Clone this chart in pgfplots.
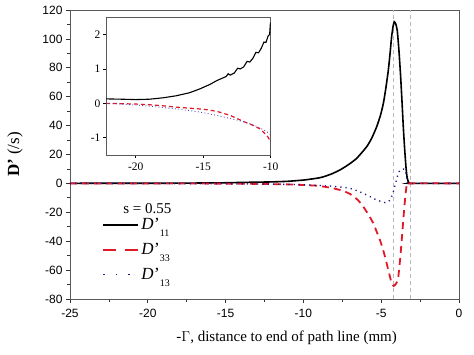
\documentclass[border=0pt]{standalone}
\usepackage{fontspec}
\setmainfont{Liberation Serif}
\setsansfont{Liberation Sans}
\usepackage{pgfplots}
\pgfplotsset{compat=1.18}
\definecolor{dred}{RGB}{225,25,40}
\definecolor{dblue}{RGB}{25,25,140}
\definecolor{frame}{RGB}{90,90,90}
\newcommand{\Dlab}[1]{\fontsize{17}{17}\selectfont\textit{D}\kern0.5pt'\raisebox{-0.9ex}{\fontsize{10}{10}\selectfont #1}}
\begin{document}
\begin{tikzpicture}
\begin{axis}[
  scale only axis, width=389pt, height=289pt,
  at={(0,0)}, anchor=south west,
  xmin=-25, xmax=0, ymin=-80, ymax=120,
  xtick={-25,-20,...,0}, ytick={-80,-60,...,120},
  minor x tick num=1, minor y tick num=1,
  tick align=outside, tick pos=left,
  major tick length=4pt, minor tick length=3pt,
  axis line style={frame, line width=0.8pt},
  every tick/.style={black!80, line width=0.7pt},
  /pgf/number format/assume math mode=true,
  tick label style={font=\sffamily\fontsize{12}{12}\selectfont},
  xticklabel style={yshift=-3pt},
  xlabel={-$\Gamma$, distance to end of path line (mm)},
  xlabel style={font=\fontsize{15}{15}\selectfont, at={(axis description cs:0.557,-0.135)}, anchor=center},
  ylabel={\textbf{D'} (/s)},
  ylabel style={font=\fontsize{17}{17}\selectfont, at={(axis description cs:-0.141,0.5)}, anchor=center, rotate=0},
  legend style={draw=none, fill=none, at={(axis description cs:0.08,0.29)}, anchor=north west,
    row sep=8pt, legend cell align=left, inner sep=1pt},
  legend image code/.code={\draw[#1] (0pt,0pt) -- (35pt,0pt);},
]
\addlegendimage{black, line width=1.8pt}
\addlegendentry{\Dlab{11}}
\addlegendimage{dred, line width=2pt, dash pattern=on 13pt off 9pt}
\addlegendentry{\Dlab{33}}
\addlegendimage{dblue, line width=1.6pt, dash pattern=on 1.5pt off 11pt}
\addlegendentry{\Dlab{13}}

\addplot[gray!55, line width=1pt, dash pattern=on 4pt off 3pt, forget plot] coordinates {(-4.18,-80) (-4.18,120)};
\addplot[gray!55, line width=1pt, dash pattern=on 4pt off 3pt, forget plot] coordinates {(-3.09,-80) (-3.09,120)};

\addplot[black, line width=1.6pt, smooth, tension=0.3, forget plot] coordinates {
(-25,0.05) (-22,0.12) (-20,0.11) (-18,0.16) (-16,0.31) (-15,0.42) (-14,0.66) (-13,0.85) (-12,1.04) (-11,1.45) (-10,2.3)
(-9.5,3.0) (-9,3.8) (-8.7,4.6) (-8.2,6.5) (-7.65,9.3) (-7.1,13) (-6.57,17.4) (-5.93,25.4) (-5.6,31.5) (-5.29,39.2)
(-5.05,47) (-4.86,55.4) (-4.7,66) (-4.54,78.5) (-4.43,90) (-4.33,101.5) (-4.24,108.5) (-4.16,111.9) (-4.07,110.5)
(-3.97,106) (-3.86,92) (-3.75,73.8) (-3.66,56) (-3.58,39.2) (-3.5,25) (-3.41,11.6) (-3.34,4.5) (-3.26,1.2) (-3.18,0.1) (-3.1,0) (0,0)};

\addplot[dred, line width=1.8pt, dash pattern=on 7pt off 5pt, smooth, tension=0.3, forget plot] coordinates {
(-25,0) (-20,-0.02) (-18,-0.07) (-16,-0.15) (-15,-0.17) (-14,-0.22) (-13,-0.35) (-12,-0.53) (-11,-0.7) (-10,-1.12)
(-9.14,-1.6) (-8.6,-2.4) (-8.08,-3.4) (-7.5,-5) (-7.0,-7.3) (-6.5,-11.5) (-6.15,-16.1) (-5.8,-22) (-5.51,-27.6)
(-5.08,-39.2) (-4.85,-47) (-4.65,-55.3) (-4.45,-64) (-4.33,-69.1) (-4.2,-71) (-4.11,-70.3) (-4.0,-68.5) (-3.9,-64.6) (-3.78,-52)
(-3.68,-39.2) (-3.6,-28) (-3.51,-16.1) (-3.43,-7) (-3.36,-1.1) (-3.25,0) (0,0)};

\addplot[dblue, line width=1.4pt, dash pattern=on 1.2pt off 4pt, smooth, tension=0.3, forget plot] coordinates {
(-25,0) (-20,-0.05) (-18,-0.12) (-16,-0.2) (-14,-0.35) (-12,-0.53) (-10.3,-0.82) (-9.5,-1.2) (-8.29,-1.8) (-7.0,-3.4)
(-6.15,-6.9) (-5.7,-9.2) (-5.29,-11.5) (-4.75,-13.3) (-4.55,-12.8) (-4.43,-11.5) (-4.3,-8.5) (-4.22,-5.7) (-4.05,1.2)
(-3.9,7) (-3.78,9.2) (-3.68,9.8) (-3.47,9.8) (-3.4,6) (-3.32,2.3) (-3.2,0) (0,0)};

\node[font=\fontsize{15}{15}\selectfont, anchor=west] at (axis cs:-21.8,-17.5) {s = 0.55};
\end{axis}

\begin{axis}[
  scale only axis, width=164.7pt, height=137.7pt,
  at={(36pt,144pt)}, anchor=south west,
  xmin=-22.2, xmax=-10, ymin=-1.5, ymax=2.5,
  xtick={-20,-15,-10}, ytick={-1,0,1,2},
  tick align=outside, tick pos=left,
  major tick length=3pt,
  axis line style={frame, line width=0.9pt},
  every tick/.style={black, line width=0.6pt},
  axis background/.style={fill=white},
  /pgf/number format/assume math mode=true,
  tick label style={font=\fontsize{11.5}{11.5}\selectfont},
  xticklabel style={yshift=-1pt},
  yticklabel style={xshift=1pt},
]
\addplot[black, line width=1.1pt] coordinates {
(-22.2,0.13) (-21,0.12) (-20,0.11) (-19,0.12) (-18,0.16) (-17,0.22) (-16,0.31) (-15.25,0.42) (-14.5,0.55) (-14,0.66)
(-13.3,0.78) (-13.15,0.86) (-13.0,0.82) (-12.7,0.88) (-12.45,1.02) (-12.25,1.0) (-12.0,1.06) (-11.75,1.22) (-11.55,1.2)
(-11.3,1.32) (-11.1,1.48) (-10.9,1.47) (-10.7,1.6) (-10.5,1.78) (-10.35,1.77) (-10.2,1.95) (-10.08,2.0) (-10.02,2.35)};
\addplot[dred, line width=1.2pt, dash pattern=on 4pt off 3pt] coordinates {
(-22.2,0) (-21,-0.01) (-20,-0.02) (-19,-0.04) (-18,-0.07) (-17,-0.11) (-16,-0.14) (-15,-0.17) (-14,-0.23) (-13,-0.35)
(-12,-0.53) (-11.3,-0.64) (-10.8,-0.74) (-10.5,-0.85) (-10.2,-0.98) (-10,-1.12)};
\addplot[blue!45!gray, line width=0.9pt, dash pattern=on 0.8pt off 2.5pt] coordinates {
(-22.2,0) (-21,-0.02) (-20,-0.05) (-19,-0.08) (-18,-0.12) (-17,-0.16) (-16,-0.21) (-15,-0.27) (-14,-0.35) (-13,-0.44)
(-12,-0.53) (-11,-0.67) (-10.3,-0.82) (-10.05,-0.9)};
\end{axis}
\pgfresetboundingbox
\path[use as bounding box] (-70pt,-56pt) rectangle (404pt,299pt);
\end{tikzpicture}
\end{document}
